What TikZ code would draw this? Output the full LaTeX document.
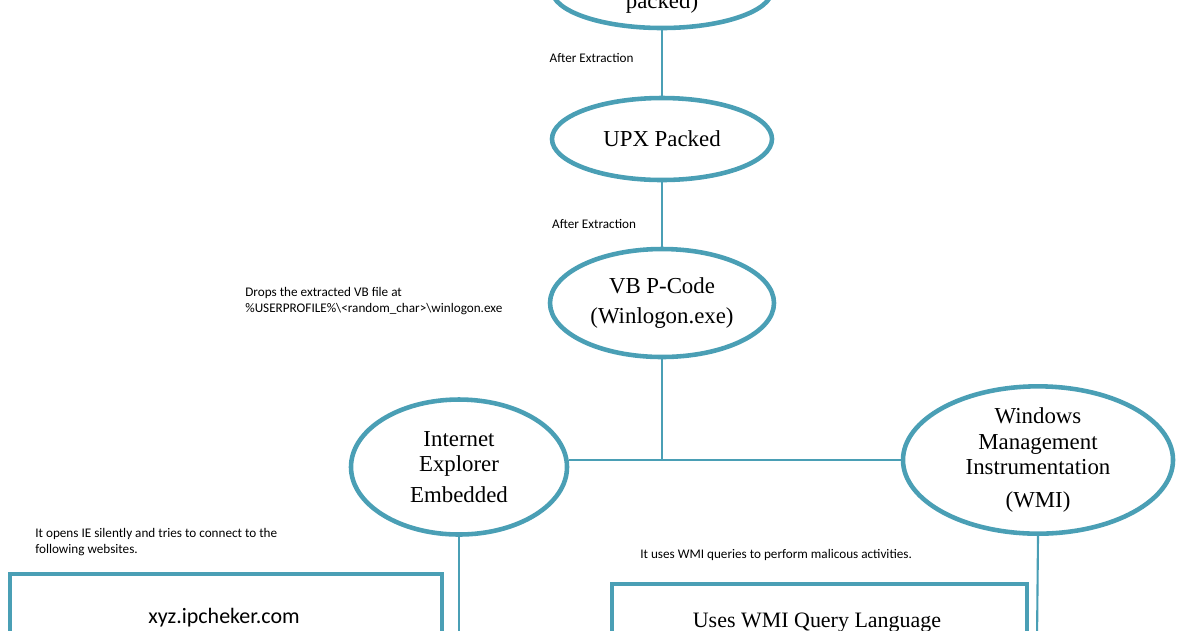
\documentclass[tikz,border=0pt]{standalone}
\usepackage{fontspec}
\setmainfont{Liberation Serif}
\newfontfamily\notefont{Carlito}
\usetikzlibrary{shapes.geometric, calc}
\definecolor{teal}{HTML}{4A9FB5}
\begin{document}
\begin{tikzpicture}[
    stage/.style={ellipse, draw=teal, line width=2.6pt, fill=white,
        inner sep=0pt, align=center, font=\fontsize{13}{14.5}\selectfont},
    box/.style={rectangle, draw=teal, line width=2.2pt, fill=white},
    link/.style={draw=teal, line width=1.2pt},
    note/.style={font=\notefont\fontsize{7.5}{9.2}\selectfont, align=left, anchor=north west, inner sep=0pt},
    boxtext/.style={font=\fontsize{12.5}{14}\selectfont, inner sep=0pt}
]
\useasboundingbox (0,0) rectangle (24,-12.6);
\clip (0,0) rectangle (24,-12.6);

% ============ CHAIN ============
\node[stage, minimum width=4.4cm, minimum height=1.52cm] (top) at (13.24,0.2) {};
\node[font=\fontsize{13}{14.5}\selectfont, inner sep=0pt] (toptxt) at (13.24,-0.06) {packed)};
\node[stage, minimum width=4.4cm, minimum height=1.64cm] (upx) at (13.24,-2.78) {UPX Packed};
\node[stage, minimum width=4.48cm, minimum height=2.16cm] (vb) at (13.24,-6.06) {VB P-Code\\[3pt](Winlogon.exe)};
\node[stage, minimum width=4.32cm, minimum height=2.7cm] (ie) at (9.18,-9.34) {Internet\\Explorer\\[3pt]Embedded};
\node[stage, minimum width=5.4cm, minimum height=2.44cm] (wmi) at (20.76,-9.2) {Windows\\Management\\Instrumentation\\[4pt](WMI)};

\coordinate (j) at (13.24,-9.2);
\coordinate (ieend) at (9.18,-12.8);
\coordinate (wmiend) at (20.74,-12.8);

\draw[link] (top.south) -- node[note, anchor=east, xshift=-0.55cm, yshift=0.1cm] (lab1) {After Extraction} (upx.north);
\draw[link] (upx.south) -- node[note, anchor=east, xshift=-0.5cm, yshift=-0.18cm] (lab2) {After Extraction} (vb.north);
\draw[link] (vb.south) -- (j);
\draw[link] (ie.east |- j) -- (j) -- (wmi.west);
\draw[link] (ie.south) -- (ieend);
\draw[link] (wmi.south) -- (wmiend);

% ============ NOTES ============
\node[note] (n1) at (4.9,-5.74) {Drops the extracted VB file at\\\%USERPROFILE\%\textbackslash{}<random\_char>\textbackslash{}winlogon.exe};
\node[note] (n2) at (0.7,-10.56) {It opens IE silently and tries to connect to the\\following websites.};
\node[note] (n3) at (12.8,-10.98) {It uses WMI queries to perform malicous activities.};

% ============ BOXES ============
\node[box, minimum width=8.64cm, minimum height=2.2cm, anchor=north west] (b1) at (0.16,-11.44) {};
\node[boxtext, font=\notefont\fontsize{12.5}{14}\selectfont] (b1t) at (4.48,-12.36) {xyz.ipcheker.com};
\node[box, minimum width=8.3cm, minimum height=2cm, anchor=north west] (b2) at (12.2,-11.64) {};
\node[boxtext] (b2t) at (16.34,-12.46) {Uses WMI Query Language};
\end{tikzpicture}
\end{document}
